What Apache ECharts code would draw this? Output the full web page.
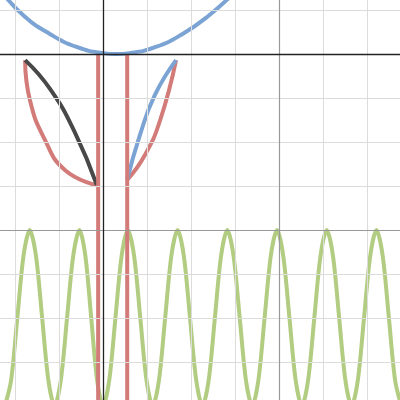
<!DOCTYPE html>
<html><head><meta charset="utf-8">
<script src="https://cdn.jsdelivr.net/npm/echarts@6/dist/echarts.min.js"></script>
<style>html,body{margin:0;padding:0;background:#fff}#c{width:400px;height:400px}</style>
</head><body><div id="c"></div>
<script>
const parabolaX=[-2.3,-1.8,-1.2,-0.6,0,0.3,0.6,1.2,1.8,2.4,3.0];
const parabolaY=[1.41,0.87,0.45,0.16,0.02,0,0.02,0.16,0.45,0.87,1.41];
const blackPts=[[-1.77,-0.14],[-1.2,-0.8],[-0.64,-1.78],[-0.14,-2.98]];
const redLeft=[[-1.77,-0.14],[-1.66,-1.05],[-1.32,-1.95],[-0.86,-2.64],[-0.14,-2.98]];
const blueRight=[[0.55,-2.86],[0.84,-1.84],[1.18,-0.93],[1.66,-0.14]];
const redRight=[[0.55,-2.86],[0.95,-2.3],[1.3,-1.5],[1.66,-0.14]];
const redVerticalsX=[-0.11,0.55];
const waveExtremaX=[-2.23,-1.665,-1.1,-0.535,0,0.565,1.13,1.695,2.26,2.825,3.39,3.955,4.52,5.085,5.65,6.215,6.78];
const waveExtremaY=[-8,-4,-8,-4,-8,-4,-8,-4,-8,-4,-8,-4,-8,-4,-8,-4,-8];
const waveStepFrac=[0.25,0.5,0.75];
const waveStepRise=[0.146,0.5,0.854];
const gridX=[-2,-1,1,2,3,5,6];
const gridY=[1,-1,-2,-3,-5,-6,-7];
const majorX=[4], majorY=[-4];
const wave=[];
for(let i=0;i<waveExtremaX.length;i++){
  wave.push([waveExtremaX[i],waveExtremaY[i]]);
  if(i<waveExtremaX.length-1){
    const x0=waveExtremaX[i],x1=waveExtremaX[i+1],y0=waveExtremaY[i],y1=waveExtremaY[i+1];
    waveStepFrac.forEach((f,k)=>wave.push([x0+(x1-x0)*f,y0+(y1-y0)*waveStepRise[k]]));
  }
}
const W=4;
const line=(data,color,smooth)=>({type:'line',data,smooth,showSymbol:false,lineStyle:{width:W,color},itemStyle:{color},z:3});
const ml=(color,width,data)=>({type:'line',data:[],markLine:{silent:true,symbol:'none',label:{show:false},lineStyle:{color,type:'solid',width},data}});
const chart=echarts.init(document.getElementById('c'));
chart.setOption({
  animation:false,
  grid:{left:0,top:0,right:0,bottom:0},
  xAxis:{type:'value',min:-103/44,max:297/44,show:false,splitLine:{show:false}},
  yAxis:{type:'value',min:-346/44,max:54/44,show:false,splitLine:{show:false}},
  series:[
    ml('#dcdcdc',1,[...gridX.map(v=>({xAxis:v})),...gridY.map(v=>({yAxis:v}))]),
    ml('#999',1.2,[...majorX.map(v=>({xAxis:v})),...majorY.map(v=>({yAxis:v}))]),
    ml('#222',1.3,[{xAxis:0},{yAxis:0}]),
    line(wave,'#b2cd82',0.3),
    line(parabolaX.map((x,i)=>[x,parabolaY[i]]),'#7ba3d4',true),
    line(redLeft,'#d27b79',true),
    line(blackPts,'#484848',true),
    line(redRight,'#d27b79',true),
    line(blueRight,'#7ba3d4',true),
    ...redVerticalsX.map(x=>line([[x,0],[x,-8]],'#d27b79',false))
  ]
});
</script></body></html>
